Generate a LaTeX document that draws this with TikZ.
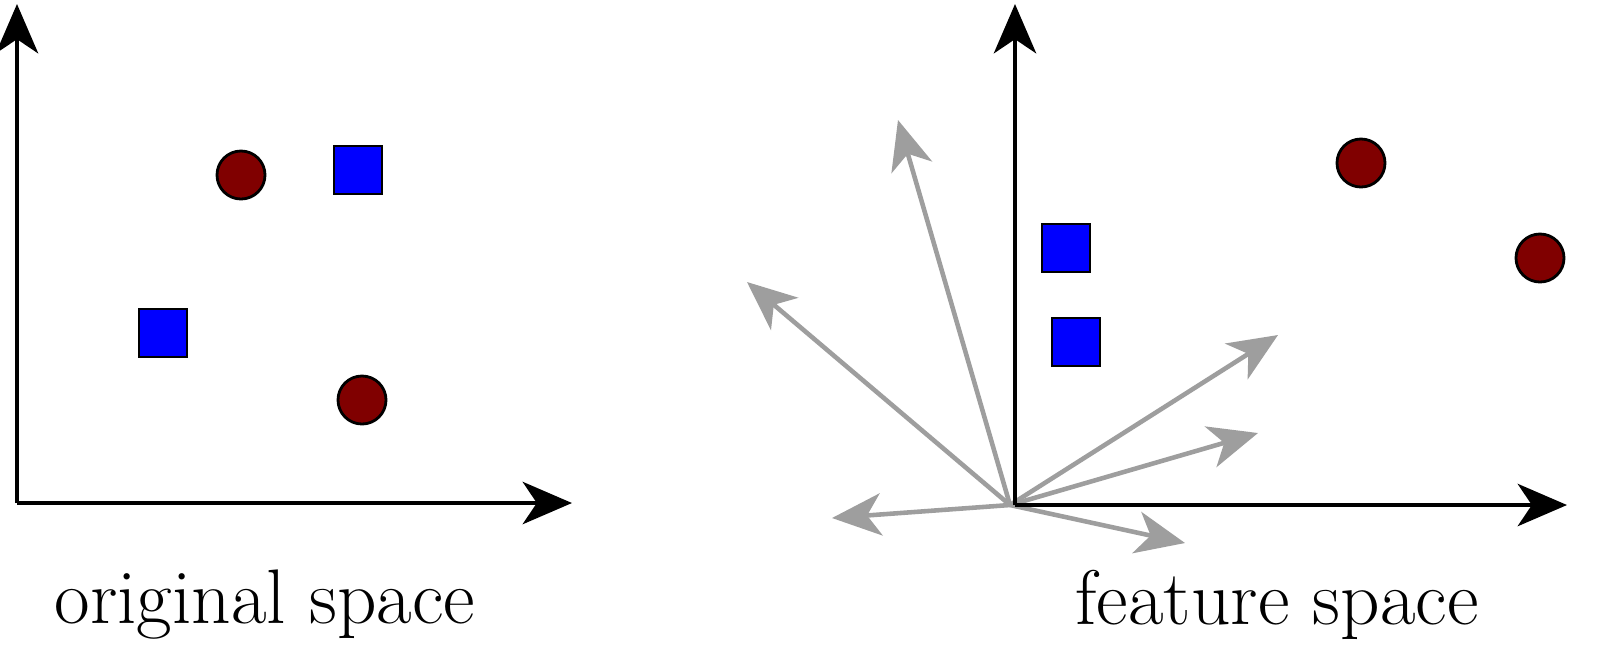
\documentclass[tikz,border=0pt]{standalone}
\usetikzlibrary{arrows.meta}
\begin{document}
\begin{tikzpicture}[x=0.01cm,y=-0.01cm,
 ax/.style={line width=1.4pt,-{Stealth[length=14pt,width=12pt,inset=4pt]}},
 ga/.style={line width=1.3pt,draw=black!38,-{Stealth[length=14pt,width=12pt,inset=4pt]}},
 dot/.style={circle,draw=black,line width=0.8pt,fill=red!50!black,minimum size=0.48cm,inner sep=0pt},
 sq/.style={rectangle,draw=black,line width=0.8pt,fill=blue,minimum size=0.48cm,inner sep=0pt},
 lab/.style={font=\fontsize{22}{26}\selectfont,inner sep=0pt}]
\coordinate (o1) at (17,503);
\coordinate (y1) at (17,4);
\coordinate (x1) at (572,503);
\draw[ax] (o1) -- (y1);
\draw[ax] (o1) -- (x1);
\node[dot] (c1) at (241,175) {};
\node[dot] (c2) at (362,400) {};
\node[sq] (s1) at (358,170) {};
\node[sq] (s2) at (163,333) {};
\node[lab] (t1) at (265,605) {original space};
\coordinate (o2) at (1015,505);
\coordinate (y2) at (1015,4);
\coordinate (x2) at (1567,505);
\coordinate (g1) at (898,120);
\coordinate (g2) at (747,282);
\coordinate (g3) at (1278,335);
\coordinate (g4) at (1258,433);
\coordinate (g5) at (832,518);
\coordinate (g6) at (1185,543);
\foreach \g in {g1,g2,g3,g4,g5,g6} \draw[ga] (1010,505) -- (\g);
\draw[ax] (o2) -- (y2);
\draw[ax] (o2) -- (x2);
\node[dot] (c3) at (1361,163) {};
\node[dot] (c4) at (1540,258) {};
\node[sq] (s3) at (1066,248) {};
\node[sq] (s4) at (1076,342) {};
\node[lab] (t2) at (1277,605) {feature space};
\pgfresetboundingbox
\useasboundingbox (0,0) rectangle (1600,656);
\end{tikzpicture}
\end{document}
